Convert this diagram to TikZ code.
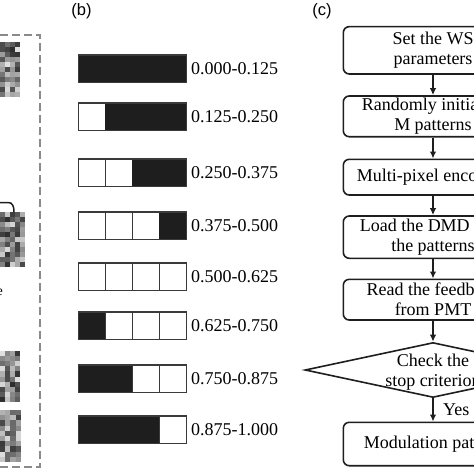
\documentclass[tikz,border=0pt]{standalone}
\usepackage{fontspec}
\setmainfont{Liberation Serif}
\newfontfamily\lsans{Liberation Sans}
\usetikzlibrary{shapes.geometric,arrows.meta}
\definecolor{ink}{HTML}{1E1E1E}
\definecolor{barline}{HTML}{3A3A3A}
\definecolor{dashgray}{HTML}{8A8A8A}
\newcommand{\mosaicgrid}[5]{% x y cols rows cell
  \foreach \rr in {1,...,#4}{\foreach \cc in {1,...,#3}{%
    \pgfmathrandominteger{\gv}{12}{82}%
    \fill[black!\gv] ({#1+(\cc-1)*#5},{#2+(\rr-1)*#5}) rectangle ++(#5,#5);}}}
\newcommand{\barrow}[5]{%
  \draw[#2] (78.5,#1) rectangle ++(27,27.5);
  \draw[#3] (105.5,#1) rectangle ++(27,27.5);
  \draw[#4] (132.5,#1) rectangle ++(27,27.5);
  \draw[#5] (159.5,#1) rectangle ++(27,27.5);
  \draw[barline, line width=1.1pt] (78.5,#1) rectangle ++(108,27.5);}
\begin{document}
\begin{tikzpicture}[x=1pt,y=-1pt,
  flow/.style={draw=ink, line width=1.6pt, rounded corners=6pt, minimum width=179.4pt,
    align=center, inner sep=0pt, fill=white, font=\fontsize{18}{20}\selectfont},
  arr/.style={draw=ink, line width=1.4pt, -{Latex[length=7pt,width=6.5pt]}},
  lab/.style={anchor=west, inner sep=0pt, font=\fontsize{18}{20}\selectfont},
  panel/.style={inner sep=0pt, font=\lsans\fontsize{16.5}{18}\selectfont},
  dashbox/.style={draw=dashgray, line width=1.3pt, dash pattern=on 8pt off 4pt},
  wcell/.style={fill=white, draw=barline, line width=1.1pt},
  bcell/.style={fill=ink, draw=ink, line width=1.1pt}]
\useasboundingbox (0,0) rectangle (474,474);
\clip (0,0) rectangle (474,474);

% ---------- panel (a) remnants ----------
\pgfmathsetseed{17}
\mosaicgrid{0}{42}{4}{11}{5}
\mosaicgrid{0}{212}{5}{11}{5}
\mosaicgrid{0}{351}{4}{10}{5.1}
\mosaicgrid{0}{410}{4}{10}{5.2}
\draw[dashbox] (0,35) -- (40,35) -- (40,467) -- (0,467);
\draw[ink, line width=1.5pt] (0,202.5) -- (8,202.5) .. controls (12.5,202.5) and (14,206) .. (14,212);
\node[anchor=east, inner sep=0pt, font=\fontsize{14}{16}\selectfont] (frag) at (3,292) {e};

% ---------- panel (b) ----------
\node[panel] (pb) at (81.5,11.5) {(b)};
\barrow{55}{bcell}{bcell}{bcell}{bcell}
\barrow{103}{wcell}{bcell}{bcell}{bcell}
\barrow{159}{wcell}{wcell}{bcell}{bcell}
\barrow{212}{wcell}{wcell}{wcell}{bcell}
\barrow{263}{wcell}{wcell}{wcell}{wcell}
\barrow{312}{bcell}{wcell}{wcell}{wcell}
\barrow{365}{bcell}{bcell}{wcell}{wcell}
\barrow{416}{bcell}{bcell}{bcell}{wcell}
\foreach \top/\txt [count=\i] in {
  55/0.000-0.125, 103/0.125-0.250, 159/0.250-0.375, 212/0.375-0.500,
  263/0.500-0.625, 312/0.625-0.750, 365/0.750-0.875, 416/0.875-1.000}{
  \node[lab] (lab\i) at (191,\top+13.75) {\txt};
}

% ---------- panel (c) ----------
\node[panel] (pc) at (322,11.5) {(c)};
\node[flow, minimum height=47.3pt] (b1) at (433,50.3) {Set the WS\\parameters};
\node[flow, minimum height=40.7pt] (b2) at (433,116.35) {Randomly initialize\\M patterns};
\node[flow, minimum height=35.7pt] (b3) at (433,177.15) {Multi-pixel encoding};
\node[flow, minimum height=42.3pt] (b4) at (433,237.15) {Load the DMD with\\the patterns};
\node[flow, minimum height=40.7pt] (b5) at (433,299.65) {Read the feedback\\from PMT};
\node[draw=ink, line width=1.6pt, diamond, minimum width=256pt, minimum height=55pt,
      inner sep=0pt, fill=white] (d) at (433,370) {};
\node[align=center, inner sep=0pt, font=\fontsize{18}{20}\selectfont] (dt) at (433,372) {Check the\\stop criterion};
\node[flow, minimum height=43.4pt] (b6) at (433,444) {Modulation pattern};
\draw[arr] (b1.south) -- (b2.north);
\draw[arr] (b2.south) -- (b3.north);
\draw[arr] (b3.south) -- (b4.north);
\draw[arr] (b4.south) -- (b5.north);
\draw[arr] (b5.south) -- (d.north);
\draw[arr] (d.south) -- (b6.north);
\node[anchor=base west, inner sep=0pt, font=\fontsize{18}{20}\selectfont] (yes) at (443,415) {Yes};
\end{tikzpicture}
\end{document}
